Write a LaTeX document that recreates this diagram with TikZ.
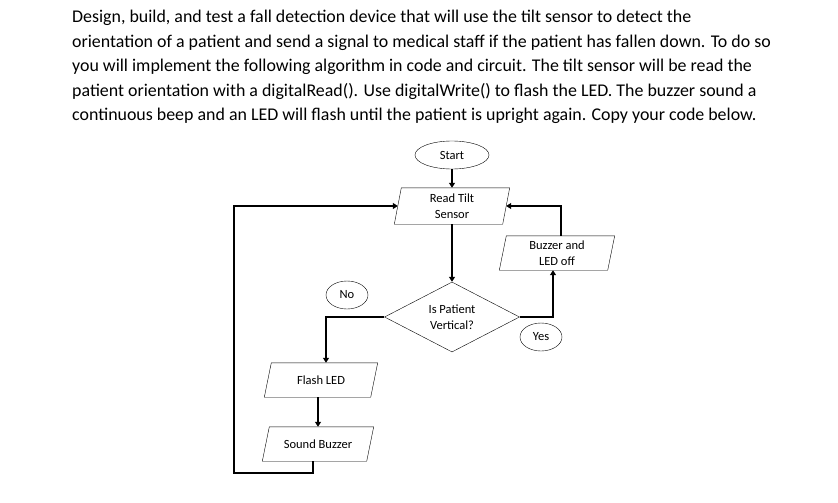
\documentclass[tikz,border=0pt]{standalone}
\usepackage{fontspec}
\setmainfont{Carlito}
\usetikzlibrary{shapes.geometric,arrows.meta,calc}
\begin{document}
\begin{tikzpicture}[x=1pt,y=-1pt,
  io/.style={rectangle,minimum height=34pt,inner sep=1pt,align=center,font=\fontsize{12.5}{16}\selectfont},
  oval/.style={ellipse,draw,thin,inner sep=0pt,font=\fontsize{12.5}{15}\selectfont},
  arr/.style={line width=2pt,-{Triangle[length=5pt,width=6pt]}},
  para/.style={anchor=base west,inner sep=0pt,font=\fontsize{17.9}{20}\selectfont}]
\useasboundingbox (0,0) rectangle (838,503);
\node[para] (l1) at (72,23) {Design, build, and test a fall detection device that will use the tilt sensor to detect the};
\node[para] (l2) at (72,48) {orientation of a patient and send a signal to medical staff if the patient has fallen down. To do so};
\node[para] (l3) at (72,72) {you will implement the following algorithm in code and circuit. The tilt sensor will be read the};
\node[para] (l4) at (72,96) {patient orientation with a digitalRead(). Use digitalWrite() to flash the LED. The buzzer sound a};
\node[para] (l5) at (72,120) {continuous beep and an LED will flash until the patient is upright again. Copy your code below.};

\node[oval,minimum width=74pt,minimum height=28pt] (start) at (452,155) {Start};
\node[io,minimum width=108pt,minimum height=36pt] (read) at (452,206) {Read Tilt\\Sensor};
\node[diamond,draw,thin,aspect=1.93,minimum width=135pt,minimum height=70pt,inner sep=0pt,align=center,font=\fontsize{12.5}{16}\selectfont] (dec) at (452,317) {Is Patient\\Vertical?};
\node[io,minimum width=108pt] (off) at (557,253) {Buzzer and\\LED off};
\node[io,minimum width=106pt] (flash) at (321,380) {Flash LED};
\node[io,minimum width=104pt] (sound) at (318,444) {Sound Buzzer};
\node[oval,minimum width=42pt,minimum height=28pt] (no) at (347,295) {No};
\node[oval,minimum width=42pt,minimum height=28pt] (yes) at (541,337) {Yes};
\foreach \n in {read,off,flash,sound}
  \draw[thin] ($(\n.south west)+(-3.5,0)$) -- ($(\n.north west)+(3.5,0)$) -- ($(\n.north east)+(3.5,0)$) -- ($(\n.south east)+(-3.5,0)$) -- cycle;

\coordinate (c1) at (326,317);
\coordinate (c2) at (553,317);
\coordinate (c3) at (561,206);
\coordinate (c4) at (313,473);
\coordinate (c5) at (234,473);
\coordinate (c6) at (234,206);

\draw[arr] (start) -- (read);
\draw[arr] (read) -- (dec);
\draw[arr] (dec.west) -- (c1) -- (c1 |- flash.north);
\draw[arr] (dec.east) -- (c2) -- (c2 |- off.south);
\draw[arr] (off.north -| c3) -- (c3) -- (read.east |- c3);
\draw[arr] (flash.south -| sound.north) -- (sound.north);
\draw[arr] (sound.south -| c4) -- (c4) -- (c5) -- (c6) -- (read.west |- c6);
\end{tikzpicture}
\end{document}
